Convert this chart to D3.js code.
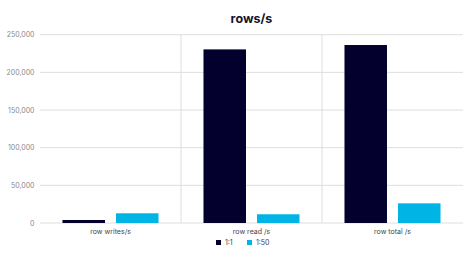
<!DOCTYPE html>
<html>
<head>
<meta charset="utf-8">
<script src="https://cdn.jsdelivr.net/npm/d3@7"></script>
<style>
  body { margin: 0; background: #fff; }
  text { font-family: Inter, "Noto Sans", sans-serif; }
</style>
</head>
<body>
<section id="grafico"></section>
<script>
const categories = ["row writes/s", "row read /s", "row total /s"];
const seriesNames = ["1:1", "1:50"];
const values11 = [4000, 230500, 236300];
const values150 = [12900, 11600, 26100];
const yTicks = [0, 50000, 100000, 150000, 200000, 250000];
const colors = ["#03002e", "#00b5e5"];

const width = 474;
const height = 262;
const plotL = 40, plotR = 463, plotT = 34.7, plotB = 223;

const svg = d3.select("section#grafico")
    .append("svg")
    .attr("width", width)
    .attr("height", height);

const xScale = d3.scaleBand()
    .domain(categories)
    .range([plotL, plotR]);

const inner = d3.scaleBand()
    .domain(seriesNames)
    .range([0, xScale.bandwidth()])
    .paddingInner(0.206)
    .paddingOuter(0.42);

const yScale = d3.scaleLinear()
    .domain([0, 250000])
    .range([plotB, plotT]);

// grid
svg.append("g")
    .selectAll("line")
    .data(yTicks)
    .enter()
    .append("line")
    .attr("x1", plotL)
    .attr("x2", plotR)
    .attr("y1", d => yScale(d))
    .attr("y2", d => yScale(d))
    .attr("stroke", "#dedede")
    .attr("stroke-width", 1);

// category separators
svg.append("g")
    .selectAll("line")
    .data(categories.slice(1))
    .enter()
    .append("line")
    .attr("x1", d => xScale(d))
    .attr("x2", d => xScale(d))
    .attr("y1", plotT)
    .attr("y2", plotB)
    .attr("stroke", "#dedede");

// y axis labels
const yAxis = d3.axisLeft(yScale)
    .tickValues(yTicks)
    .tickSize(0)
    .tickPadding(5)
    .tickFormat(d3.format(","));

svg.append("g")
    .attr("transform", `translate(${plotL - 0.5},0)`)
    .call(yAxis)
    .call(g => g.select(".domain").remove())
    .call(g => g.selectAll("text")
        .attr("fill", "#8a8a8a")
        .style("font-size", "7px"));

// x axis labels
const xAxis = d3.axisBottom(xScale).tickSize(0).tickPadding(6);
svg.append("g")
    .attr("transform", `translate(0,${plotB})`)
    .call(xAxis)
    .call(g => g.select(".domain").remove())
    .call(g => g.selectAll("text")
        .attr("fill", "#444")
        .style("font-size", "7px"));

// bars
const rows = categories.map((c, i) => ({cat: c, vals: [values11[i], values150[i]]}));

svg.append("g")
    .selectAll("g")
    .data(rows)
    .enter()
    .append("g")
    .attr("transform", d => `translate(${xScale(d.cat)},0)`)
    .selectAll("rect")
    .data(d => d.vals.map((v, j) => ({name: seriesNames[j], v: v, j: j})))
    .enter()
    .append("rect")
    .attr("x", d => inner(d.name))
    .attr("y", d => yScale(d.v))
    .attr("width", inner.bandwidth())
    .attr("height", d => plotB - yScale(d.v))
    .attr("fill", d => colors[d.j]);

// title
svg.append("text")
    .attr("x", (plotL + plotR) / 2)
    .attr("y", 23)
    .attr("text-anchor", "middle")
    .attr("fill", "#14142b")
    .style("font-size", "12.5px")
    .style("font-weight", "bold")
    .text("rows/s");

// legend
const legendX = [216, 247];
const legend = svg.append("g")
    .selectAll("g")
    .data(seriesNames)
    .enter()
    .append("g")
    .attr("transform", (d, i) => `translate(${legendX[i]},240)`);

legend.append("rect")
    .attr("width", 5)
    .attr("height", 5)
    .attr("fill", (d, i) => colors[i]);

legend.append("text")
    .attr("x", 9)
    .attr("y", 5)
    .attr("fill", "#444")
    .style("font-size", "7px")
    .text(d => d);
</script>
</body>
</html>
